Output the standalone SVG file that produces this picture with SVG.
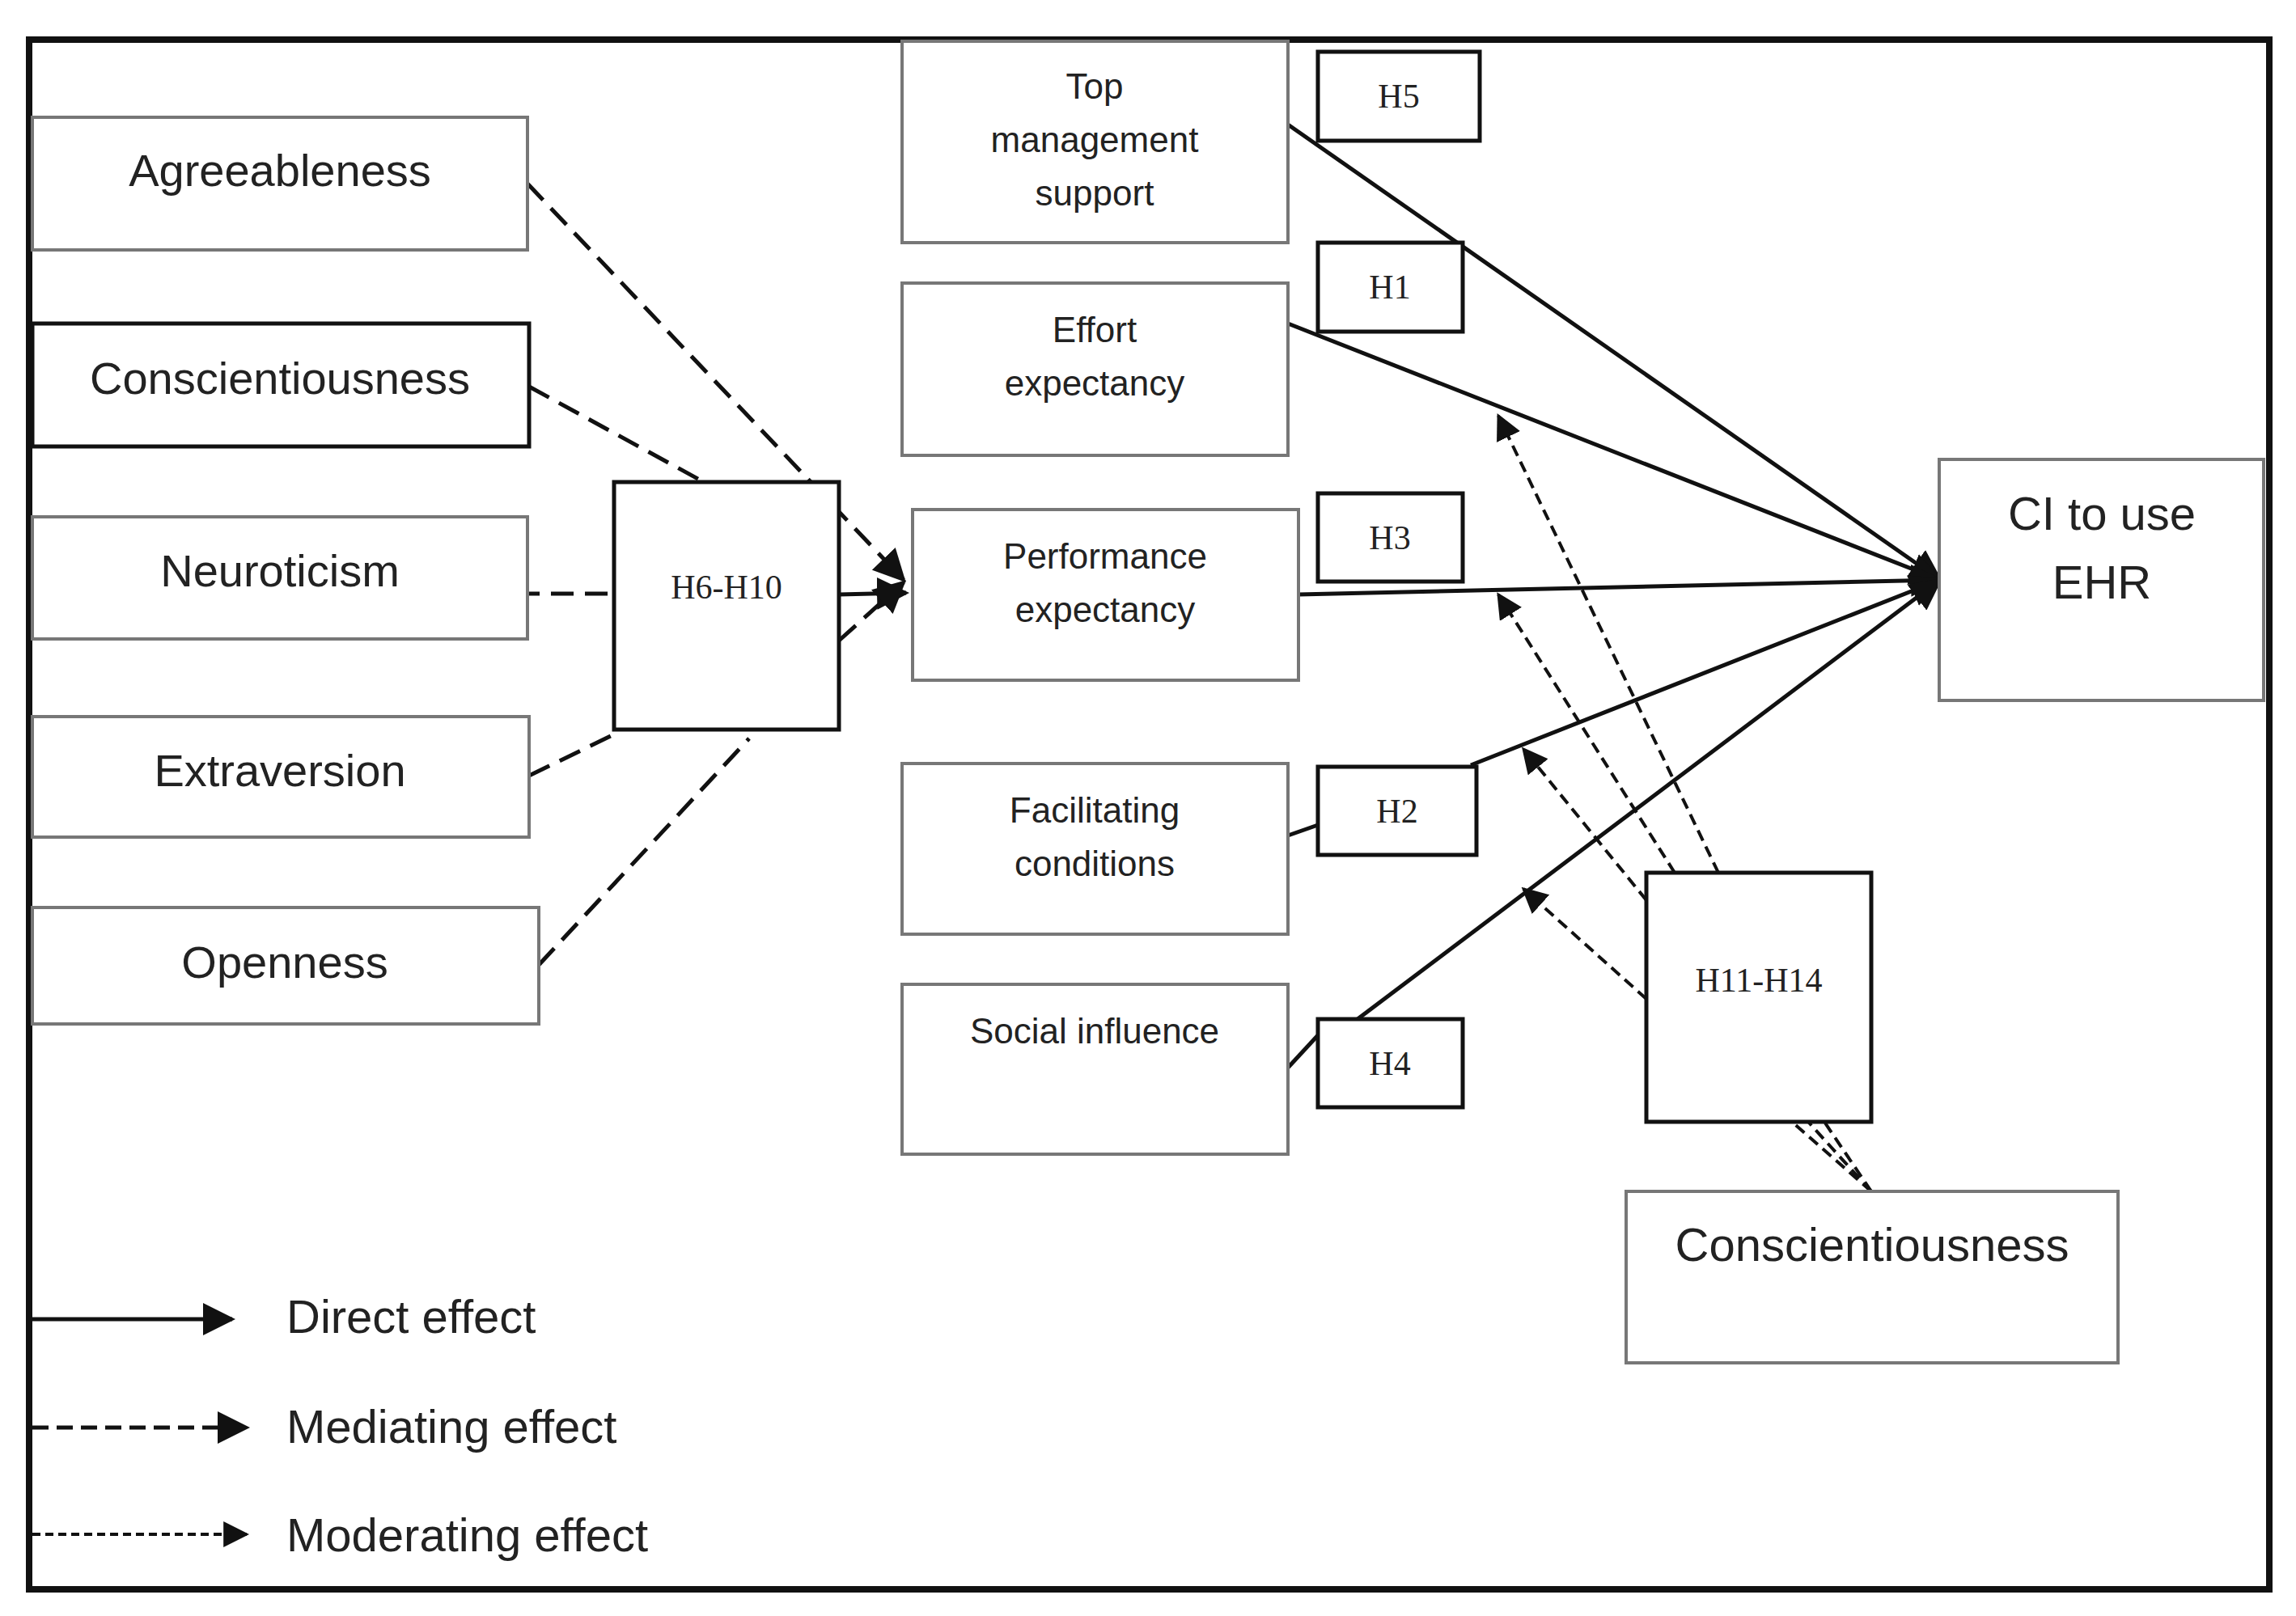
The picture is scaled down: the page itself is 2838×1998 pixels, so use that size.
<svg xmlns="http://www.w3.org/2000/svg" width="2838" height="1998" viewBox="0 0 2838 1998">
<style>
.b{fill:#fff;stroke:#777;stroke-width:4}
.bk{fill:#fff;stroke:#111;stroke-width:5}
.t{font-family:"Liberation Sans",Arial,sans-serif;fill:#222;text-anchor:middle}
.h{font-family:"Liberation Serif","Times New Roman",serif;fill:#222;text-anchor:middle;font-size:42px}
.s{stroke:#111;stroke-width:5;fill:none}
.d{stroke:#111;stroke-width:5;fill:none;stroke-dasharray:28 14}
.m{stroke:#111;stroke-width:4;fill:none;stroke-dasharray:14 8}
.l{font-family:"Liberation Sans",Arial,sans-serif;fill:#222;font-size:58px}
</style>
<defs>
<marker id="A" viewBox="0 0 10 10" refX="9" refY="5" markerWidth="8" markerHeight="8" orient="auto"><path d="M0,0L10,5L0,10z" fill="#111"/></marker>
</defs>
<rect width="2838" height="1998" fill="#fff"/>
<rect x="36" y="49" width="2769" height="1916" fill="none" stroke="#111" stroke-width="8"/>
<g id="connectors">
<line class="d" x1="652" y1="227" x2="1117" y2="717" marker-end="url(#A)"/>
<line class="d" x1="654" y1="478" x2="870" y2="596"/>
<line class="d" x1="639" y1="734" x2="759" y2="734"/>
<line class="s" x1="1037" y1="735" x2="1120" y2="733" marker-end="url(#A)"/>
<line class="d" x1="654" y1="959" x2="759" y2="908"/>
<line class="d" x1="666" y1="1193" x2="926" y2="913"/>
<line class="d" x1="1037" y1="792" x2="1117" y2="720" marker-end="url(#A)"/>
<line class="s" x1="1592" y1="154" x2="2398" y2="717" marker-end="url(#A)"/>
<line class="s" x1="1592" y1="400" x2="2398" y2="717" marker-end="url(#A)"/>
<line class="s" x1="1605" y1="735" x2="2398" y2="717" marker-end="url(#A)"/>
<polyline class="s" points="1592,1033 1629,1020"/>
<line class="s" x1="1818" y1="946" x2="2398" y2="717" marker-end="url(#A)"/>
<polyline class="s" points="1592,1320 1629,1280"/>
<line class="s" x1="1678" y1="1260" x2="2398" y2="717" marker-end="url(#A)"/>
<line class="m" x1="2124" y1="1079" x2="1852" y2="514" marker-end="url(#A)"/>
<line class="m" x1="2070" y1="1079" x2="1852" y2="735" marker-end="url(#A)"/>
<line class="m" x1="2035" y1="1113" x2="1883" y2="926" marker-end="url(#A)"/>
<line class="m" x1="2035" y1="1235" x2="1883" y2="1099" marker-end="url(#A)"/>
<line class="m" x1="2313" y1="1473" x2="2215" y2="1387"/>
<line class="m" x1="2313" y1="1473" x2="2235" y2="1387"/>
<line class="m" x1="2313" y1="1473" x2="2255" y2="1387"/>
</g>
<g id="agreeableness"><rect class="b" x="40" y="145" width="612" height="164"/><text class="t" x="346" y="230" font-size="56">Agreeableness</text></g>
<g id="conscientiousness1"><rect class="bk" x="40" y="400" width="614" height="152"/><text class="t" x="346" y="487" font-size="56">Conscientiousness</text></g>
<g id="neuroticism"><rect class="b" x="40" y="639" width="612" height="151"/><text class="t" x="346" y="725" font-size="56">Neuroticism</text></g>
<g id="extraversion"><rect class="b" x="40" y="886" width="614" height="149"/><text class="t" x="346" y="972" font-size="56">Extraversion</text></g>
<g id="openness"><rect class="b" x="40" y="1122" width="626" height="144"/><text class="t" x="352" y="1209" font-size="56">Openness</text></g>
<g id="h6h10"><rect class="bk" x="759" y="596" width="278" height="306"/><text class="h" x="898" y="740">H6-H10</text></g>
<g id="top"><rect class="b" x="1115" y="51" width="477" height="249"/><text class="t" font-size="44"><tspan x="1353" y="122">Top</tspan><tspan x="1353" y="188">management</tspan><tspan x="1353" y="254">support</tspan></text></g>
<g id="h5"><rect class="bk" x="1629" y="64" width="200" height="110"/><text class="h" x="1729" y="133">H5</text></g>
<g id="effort"><rect class="b" x="1115" y="350" width="477" height="213"/><text class="t" font-size="44"><tspan x="1353" y="423">Effort</tspan><tspan x="1353" y="489">expectancy</tspan></text></g>
<g id="h1"><rect class="bk" x="1629" y="300" width="179" height="110"/><text class="h" x="1718" y="369">H1</text></g>
<g id="performance"><rect class="b" x="1128" y="630" width="477" height="211"/><text class="t" font-size="44"><tspan x="1366" y="703">Performance</tspan><tspan x="1366" y="769">expectancy</tspan></text></g>
<g id="h3"><rect class="bk" x="1629" y="610" width="179" height="109"/><text class="h" x="1718" y="679">H3</text></g>
<g id="facilitating"><rect class="b" x="1115" y="944" width="477" height="211"/><text class="t" font-size="44"><tspan x="1353" y="1017">Facilitating</tspan><tspan x="1353" y="1083">conditions</tspan></text></g>
<g id="h2"><rect class="bk" x="1629" y="948" width="196" height="109"/><text class="h" x="1727" y="1017">H2</text></g>
<g id="social"><rect class="b" x="1115" y="1217" width="477" height="210"/><text class="t" x="1353" y="1290" font-size="44">Social influence</text></g>
<g id="h4"><rect class="bk" x="1629" y="1260" width="179" height="109"/><text class="h" x="1718" y="1329">H4</text></g>
<g id="ci"><rect class="b" x="2397" y="568" width="401" height="298"/><text class="t" font-size="58"><tspan x="2598" y="655">CI to use</tspan><tspan x="2598" y="740">EHR</tspan></text></g>
<g id="h11h14"><rect class="bk" x="2035" y="1079" width="278" height="308"/><text class="h" x="2174" y="1226">H11-H14</text></g>
<g id="conscientiousness2"><rect class="b" x="2010" y="1473" width="608" height="212"/><text class="t" x="2314" y="1559" font-size="58">Conscientiousness</text></g>
<g id="legend">
<line class="s" x1="40" y1="1631" x2="287" y2="1631" marker-end="url(#A)"/>
<text class="l" x="354" y="1648">Direct effect</text>
<line class="d" x1="40" y1="1765" x2="305" y2="1765" marker-end="url(#A)" style="stroke-dasharray:20 10"/>
<text class="l" x="354" y="1784">Mediating effect</text>
<line class="m" x1="40" y1="1897" x2="305" y2="1897" marker-end="url(#A)" style="stroke-dasharray:10 6"/>
<text class="l" x="354" y="1918">Moderating effect</text>
</g>
</svg>
